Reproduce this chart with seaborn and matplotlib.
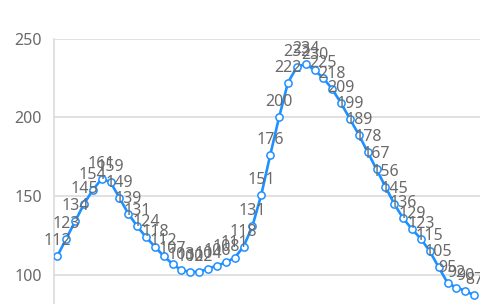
import matplotlib
matplotlib.use("Agg")
import matplotlib.pyplot as plt
import seaborn as sns
import pandas as pd

values = [112, 123, 134, 145, 154, 161, 159, 149, 139, 131,
          124, 118, 112, 107, 103, 102, 102, 104, 106, 108,
          111, 118, 131, 151, 176, 200, 222, 232, 234, 230,
          225, 218, 209, 199, 189, 178, 167, 156, 145, 136,
          129, 123, 115, 105, 95, 92, 90, 87]
x_idx = list(range(len(values)))
y_ticks = [100, 150, 200, 250]

sns.set_theme(style="white")
plt.rcParams['font.family'] = ['Noto Sans', 'DejaVu Sans']

df = pd.DataFrame({"x": x_idx, "y": values})

fig = plt.figure(figsize=(4.8, 3.04), dpi=100)
ax = fig.add_axes([53.5 / 480, 0.0, 1 - 53.5 / 480, 1 - 38.7 / 304])

blue = "#1e90ff"
txt = "#6a6a6a"
grid = "#dcdcdc"

sns.lineplot(data=df, x="x", y="y", ax=ax, color=blue, linewidth=1.9,
             marker="o", markersize=5.2, markerfacecolor="white",
             markeredgecolor=blue, markeredgewidth=1.1, zorder=3)

for xi, v in zip(x_idx, values):
    ax.annotate(str(v), (xi, v), xytext=(0, 11), textcoords="offset pixels",
                ha="center", va="baseline", fontsize=11.5, color=txt, zorder=5,
                annotation_clip=False)

ax.set_xlim(-0.43, 47.66)
ax.set_ylim(81.6, 250)
ax.set_yticks(y_ticks)
ax.set_xticks([])
ax.set_xlabel("")
ax.set_ylabel("")
for yt in y_ticks:
    ax.axhline(yt, color=grid, linewidth=1.2, zorder=1)
for s in ["top", "right", "bottom"]:
    ax.spines[s].set_visible(False)
ax.spines["left"].set_color(grid)
ax.spines["left"].set_linewidth(1.2)
ax.tick_params(axis="y", length=0, pad=8.5, labelsize=11.5, labelcolor=txt)

fig.savefig("out.png", dpi=100)
